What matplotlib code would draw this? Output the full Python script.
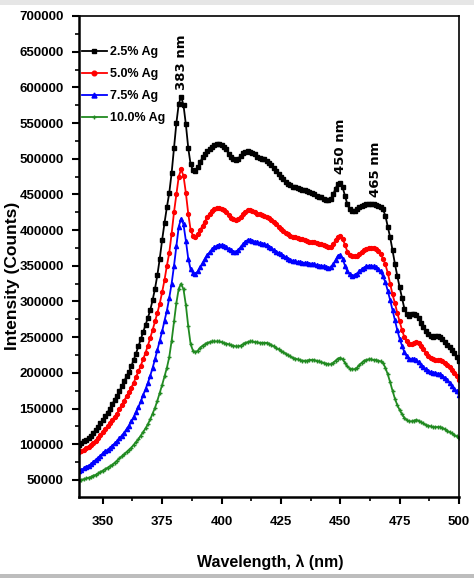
import numpy as np
import matplotlib
matplotlib.use("Agg")
import matplotlib.pyplot as plt
from matplotlib.patches import Rectangle

# ---------------- data (intensity in thousands of counts, 1 nm steps) ----------------
wavelength_start = 340
wavelength_end = 500

ag_2_5 = [99, 101, 104, 106, 109, 112, 116, 120, 124, 129,
          134, 139, 144, 150, 156, 162, 168, 174, 181, 188,
          195, 201, 209, 218, 227, 237, 247, 257, 267, 277,
          288, 302, 318, 337, 360, 386, 410, 432, 452, 480,
          515, 550, 577, 587, 575, 548, 515, 492, 484, 483,
          488, 495, 502, 507, 511, 514, 517, 519, 520, 520,
          519, 517, 513, 507, 502, 499, 498, 500, 504, 508,
          510, 511, 510, 508, 506, 503, 501, 500, 499, 497,
          494, 491, 487, 483, 479, 475, 471, 468, 465, 463,
          461, 460, 459, 457, 456, 456, 455, 454, 452, 450,
          448, 447, 446, 444, 442, 442, 444, 450, 458, 465,
          466, 460, 448, 436, 429, 427, 427, 429, 432, 434,
          435, 436, 437, 437, 436, 435, 434, 432, 429, 420,
          405, 390, 372, 353, 336, 320, 305, 290, 282, 280,
          282, 283, 281, 277, 270, 264, 258, 254, 251, 250,
          251, 251, 250, 247, 243, 239, 236, 232, 228, 222,
          216]

ag_5_0 = [89, 90, 92, 94, 96, 99, 102, 105, 109, 113,
          117, 121, 125, 129, 134, 138, 143, 149, 155, 161,
          167, 173, 179, 186, 194, 202, 210, 219, 228, 238,
          249, 260, 272, 284, 297, 313, 330, 350, 368, 395,
          425, 450, 475, 485, 476, 452, 423, 400, 392, 391,
          394, 400, 406, 412, 418, 423, 427, 430, 431, 431,
          430, 428, 425, 421, 417, 415, 414, 415, 418, 422,
          426, 428, 428, 427, 425, 423, 422, 421, 420, 419,
          417, 414, 411, 408, 405, 402, 399, 396, 394, 392,
          391, 390, 389, 388, 387, 386, 385, 384, 384, 383,
          382, 381, 380, 379, 378, 377, 377, 380, 386, 391,
          392, 388, 379, 370, 365, 363, 363, 364, 366, 369,
          372, 374, 375, 375, 375, 374, 371, 366, 360, 352,
          340, 325, 310, 298, 284, 272, 260, 250, 244, 241,
          241, 242, 243, 242, 238, 233, 228, 224, 221, 219,
          218, 218, 218, 217, 214, 211, 208, 204, 200, 195,
          190]

ag_7_5 = [63, 64, 66, 68, 70, 72, 75, 78, 81, 84,
          87, 90, 92, 95, 98, 101, 104, 108, 112, 116,
          121, 126, 132, 138, 145, 152, 160, 169, 177, 186,
          196, 207, 219, 232, 245, 258, 273, 287, 305, 325,
          350, 378, 405, 416, 408, 385, 360, 345, 340, 339,
          342, 348, 354, 360, 365, 369, 373, 376, 378, 379,
          379, 378, 376, 374, 372, 370, 370, 372, 376, 380,
          384, 386, 386, 385, 384, 383, 382, 381, 380, 379,
          377, 375, 372, 370, 368, 366, 364, 362, 360, 358,
          357, 356, 355, 355, 354, 354, 354, 353, 353, 352,
          351, 350, 350, 349, 348, 347, 348, 352, 358, 364,
          365, 360, 350, 342, 338, 336, 337, 339, 342, 345,
          347, 349, 350, 350, 349, 348, 346, 342, 335, 327,
          315, 302, 288, 274, 260, 248, 238, 229, 223, 220,
          219, 219, 218, 215, 211, 208, 205, 203, 201, 200,
          200, 199, 198, 196, 193, 190, 186, 182, 178, 174,
          169]

ag_10_0 = [49, 50, 51, 52, 53, 54, 56, 57, 59, 61,
           63, 65, 67, 69, 71, 74, 77, 80, 83, 86,
           89, 92, 95, 99, 103, 107, 112, 117, 122, 128,
           135, 143, 151, 161, 172, 183, 195, 207, 222, 245,
           272, 298, 318, 325, 317, 295, 265, 240, 231, 229,
           231, 235, 238, 240, 242, 243, 244, 244, 244, 244,
           243, 242, 241, 240, 239, 238, 237, 237, 238, 240,
           242, 243, 244, 244, 243, 243, 242, 242, 242, 242,
           241, 239, 237, 235, 233, 231, 229, 227, 225, 223,
           221, 220, 219, 218, 217, 217, 217, 218, 218, 218,
           217, 216, 215, 214, 213, 212, 212, 214, 217, 220,
           221, 219, 214, 209, 206, 205, 205, 207, 211, 214,
           217, 218, 219, 219, 218, 218, 217, 216, 214, 207,
           198, 187, 175, 164, 155, 148, 142, 137, 134, 132,
           132, 133, 134, 133, 131, 129, 127, 126, 125, 124,
           124, 124, 124, 123, 121, 119, 117, 115, 113, 111,
           108]

series_labels = ["2.5% Ag", "5.0% Ag", "7.5% Ag", "10.0% Ag"]
peak_labels = ["383 nm", "450 nm", "465 nm"]
peak_positions = [383, 450, 465]
peak_label_values = [597000, 478000, 446000]

x_ticks = [350, 375, 400, 425, 450, 475, 500]
y_ticks = [50000, 100000, 150000, 200000, 250000, 300000, 350000,
           400000, 450000, 500000, 550000, 600000, 650000, 700000]

# ---------------- plotting ----------------
sans = ["Liberation Sans", "DejaVu Sans"]
wide = ["DejaVu Sans"]

wl = np.arange(wavelength_start, wavelength_end + 1)

fig = plt.figure(figsize=(4.74, 5.78), dpi=100)
fig.patches.append(Rectangle((0, 1 - 5 / 578), 1, 5 / 578, transform=fig.transFigure,
                             facecolor="#e6e6e6", edgecolor="none", zorder=0))
fig.patches.append(Rectangle((0, 0), 1, 4 / 578, transform=fig.transFigure,
                             facecolor="#bdbdbd", edgecolor="none", zorder=0))

ax = fig.add_axes([79 / 474, 81 / 578, 380 / 474, 481 / 578])

styles = [
    dict(color="black", marker="s", markersize=2.6),
    dict(color="#ff0000", marker="o", markersize=2.8),
    dict(color="#0000ff", marker="^", markersize=3.0),
    dict(color="#218a21", marker="+", markersize=2.5),
]
all_series = [ag_2_5, ag_5_0, ag_7_5, ag_10_0]
for vals, lab, st in zip(all_series, series_labels, styles):
    ax.plot(wl, np.array(vals) * 1000, lw=1.3, label=lab, **st)

ax.set_xlim(340, 500)
ax.set_ylim(26000, 700000)
ax.set_xticks(x_ticks)
ax.set_xticks(np.arange(362.5, 500, 25), minor=True)
ax.set_yticks(y_ticks)
ax.set_yticks(np.arange(75000, 700000, 50000), minor=True)
ax.set_xticklabels([str(v) for v in x_ticks], family=sans, fontweight="bold", fontsize=9.5)
ax.set_yticklabels([str(v) for v in y_ticks], family=sans, fontweight="bold", fontsize=9.5)
ax.tick_params(which="major", direction="out", length=5, width=1.5)
ax.tick_params(axis="x", which="major", pad=9)
ax.tick_params(axis="y", which="major", pad=6)
ax.tick_params(which="minor", direction="out", length=3, width=1.2)
ax.tick_params(top=False, right=False)
for side in ["left", "bottom"]:
    ax.spines[side].set_linewidth(1.8)
for side in ["top", "right"]:
    ax.spines[side].set_linewidth(1.2)

ax.set_xlabel("Wavelength, \u03bb (nm)", family=sans, fontweight="bold", fontsize=11.5)
ax.xaxis.set_label_coords(0.503, -0.119)
ax.set_ylabel("Intensity (Counts)", family=sans, fontweight="bold", fontsize=12.5)
ax.yaxis.set_label_coords(-0.155, 0.46)

for lab, px, py in zip(peak_labels, peak_positions, peak_label_values):
    ax.text(px, py, lab, rotation=90, ha="center", va="bottom", family=wide,
            fontweight="bold", fontsize=9.5)

leg = ax.legend(loc="upper left", bbox_to_anchor=(0.0, 0.942), frameon=False,
                prop=dict(family=sans, weight="bold", size=9),
                handlelength=2.0, handletextpad=0.3, labelspacing=0.8,
                markerscale=1.2, borderaxespad=0.0, borderpad=0.2)

fig.savefig("out.png", dpi=100, facecolor="white")
